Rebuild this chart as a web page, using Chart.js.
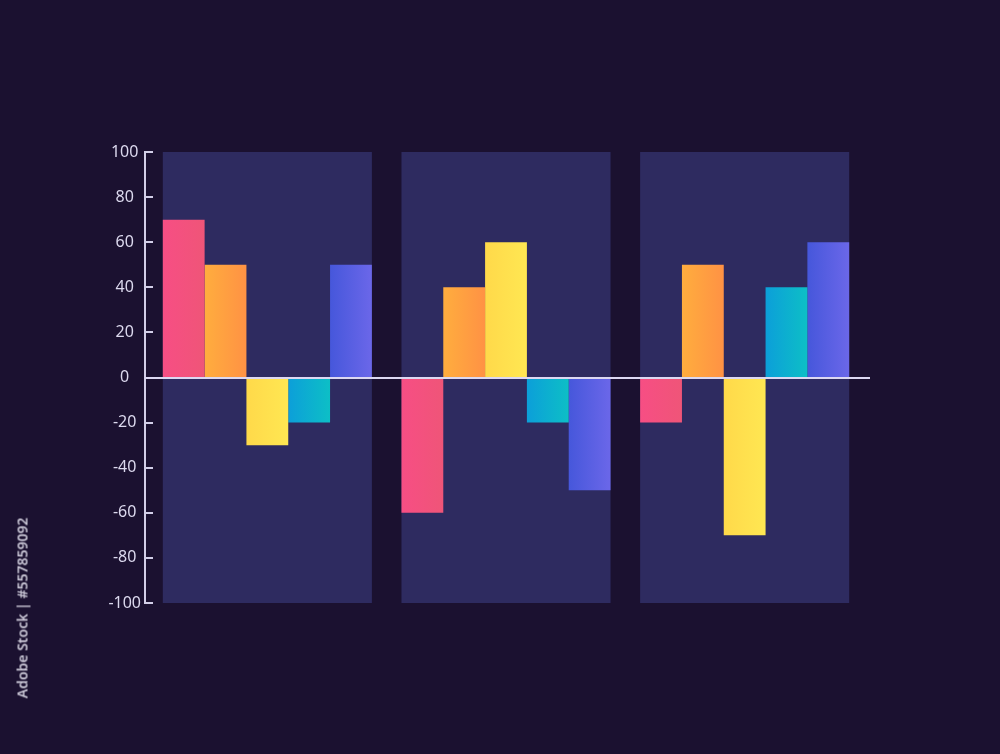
<!DOCTYPE html>
<html>
<head>
<meta charset="utf-8">
<script src="https://cdn.jsdelivr.net/npm/chart.js@4/dist/chart.umd.min.js"></script>
<style>
	html, body { margin: 0; padding: 0; background: #1b1130; }
	#wrap { position: relative; width: 1000px; height: 754px; }
	#stamp {
		position: absolute; left: 22px; top: 608px;
		transform: translate(-50%, -50%) rotate(-90deg);
		white-space: nowrap; color: #cac7d6;
		font: 600 14px "Noto Sans", sans-serif;
	}
</style>
</head>
<body>
<div id="wrap">
	<canvas id="chart" width="1000" height="754"></canvas>
	<div id="stamp">Adobe Stock | #557859092</div>
</div>
<script>
const categories = ['Group 1', 'Group 2', 'Group 3'];
const seriesA = [70, -60, -20];
const seriesB = [50, 40, 50];
const seriesC = [-30, 60, -70];
const seriesD = [-20, -20, 40];
const seriesE = [50, -50, 60];
const yTicks = [100, 80, 60, 40, 20, 0, -20, -40, -60, -80, -100];

// left / right colour of each bar gradient
const barColors = [
	['#f74e84', '#ef5578'],
	['#ffad3e', '#ff9244'],
	['#ffd94a', '#ffe752'],
	['#0c9fd9', '#0dbfc6'],
	['#4657db', '#6b67e9'],
];

const catPct = 0.876;
const nSeries = 5;

function barGradient(context) {
	const chart = context.chart;
	const x = chart.scales.x;
	const colors = barColors[context.datasetIndex];
	if (!x || context.dataIndex === undefined) return colors[0];
	const step = x.getPixelForValue(1) - x.getPixelForValue(0);
	const groupW = step * catPct;
	const barW = groupW / nSeries;
	const left = x.getPixelForValue(context.dataIndex) - groupW / 2 + context.datasetIndex * barW;
	if (!isFinite(left)) return colors[0];
	const g = chart.ctx.createLinearGradient(left, 0, left + barW, 0);
	g.addColorStop(0, colors[0]);
	g.addColorStop(1, colors[1]);
	return g;
}

const panels = {
	id: 'panels',
	beforeDatasetsDraw(chart) {
		const {ctx, chartArea, scales: {x}} = chart;
		const step = x.getPixelForValue(1) - x.getPixelForValue(0);
		const w = step * catPct;
		ctx.save();
		ctx.fillStyle = '#2e2b60';
		categories.forEach((c, i) => {
			const cx = x.getPixelForValue(i);
			ctx.fillRect(cx - w / 2, chartArea.top, w, chartArea.bottom - chartArea.top);
		});
		ctx.restore();
	},
	afterDatasetsDraw(chart) {
		const {ctx, chartArea, scales: {y}} = chart;
		const ax = chartArea.left - 3;
		ctx.save();
		ctx.strokeStyle = '#d3cfe8';
		ctx.lineWidth = 2;
		ctx.beginPath();
		ctx.moveTo(ax, y.getPixelForValue(100) - 1);
		ctx.lineTo(ax, y.getPixelForValue(-100) + 1);
		yTicks.forEach(v => {
			const py = Math.round(y.getPixelForValue(v));
			ctx.moveTo(ax, py);
			ctx.lineTo(ax + 8, py);
		});
		ctx.stroke();
		// zero line
		const zy = Math.round(y.getPixelForValue(0));
		ctx.strokeStyle = '#dcd8f2';
		ctx.beginPath();
		ctx.moveTo(ax, zy);
		ctx.lineTo(chartArea.right + 6, zy);
		ctx.stroke();
		ctx.restore();
	}
};

const seriesList = [seriesA, seriesB, seriesC, seriesD, seriesE];

const config = {
	type: 'bar',
	data: {
		labels: categories,
		datasets: seriesList.map((s, i) => ({
			label: 'Series ' + (i + 1),
			data: s,
			backgroundColor: barGradient,
			borderWidth: 0,
			barPercentage: 1,
			categoryPercentage: catPct,
		}))
	},
	options: {
		responsive: false,
		animation: false,
		layout: { padding: { left: 0, right: 136, top: 152, bottom: 151 } },
		plugins: {
			legend: { display: false },
			tooltip: { enabled: false },
		},
		scales: {
			x: {
				display: false,
				offset: true,
			},
			y: {
				min: -100,
				max: 100,
				afterFit: s => { s.width = 148; },
				grid: { display: false, drawTicks: false },
				border: { display: false },
				ticks: {
					stepSize: 20,
					padding: 7,
					crossAlign: 'center',
					color: '#dcd9ee',
					font: { family: '"Noto Sans", sans-serif', size: 16 },
				}
			}
		}
	},
	plugins: [panels]
};

const ctx = document.getElementById('chart');
myChart = new Chart(ctx, config);
</script>
</body>
</html>
